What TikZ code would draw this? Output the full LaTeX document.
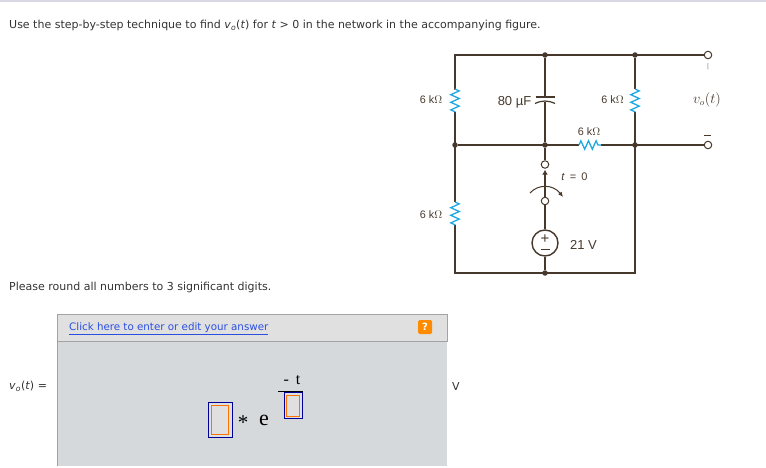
\documentclass[tikz,border=0pt]{standalone}
\usepackage{fontspec}
\setmainfont{DejaVu Sans}
\newfontfamily\circfont{Liberation Sans}
\newfontfamily\boxfont{Liberation Serif}
\usepackage{xcolor}
\usetikzlibrary{calc,arrows.meta,decorations.pathmorphing}
\definecolor{wirecol}{HTML}{46392C}
\definecolor{rescol}{HTML}{1FA8E0}
\definecolor{headcol}{HTML}{E0E0E0}
\definecolor{bodycol}{HTML}{D6D9DC}
\definecolor{edgecol}{HTML}{A3A3A3}
\definecolor{linkcol}{HTML}{2A4FE0}
\definecolor{pagetxt}{HTML}{333333}
\tikzset{
	wire/.style={line width=2pt,wirecol},
	res/.style={line width=1.3pt,rescol,decorate,decoration={zigzag,amplitude=4.2pt,segment length=7.6pt}},
	dot/.style={circle,fill=wirecol,inner sep=0pt,minimum size=5.5pt},
	term/.style={circle,draw=wirecol,line width=1pt,fill=white,inner sep=0pt,minimum size=7.5pt},
	circlabel/.style={text=wirecol,font=\circfont\fontsize{10.8}{12}\selectfont,inner sep=0pt},
	pagetext/.style={text=pagetxt,font=\fontsize{11}{13}\selectfont,inner sep=0pt,anchor=west},
	outerbox/.style={draw=blue!60!black,line width=1pt,fill=headcol},
	innerbox/.style={draw=orange!90!red,line width=1pt,fill=headcol},
}
\begin{document}
\begin{tikzpicture}[x=1pt,y=-1pt]
	\useasboundingbox (0,0) rectangle (766,468);
	\fill[blue!20!gray!25] (0,0) rectangle (766,2);
	% question text
	\node[pagetext] (question) at (9,25.5) {Use the step-by-step technique to find \textit{v}\textsubscript{\textit{o}}(\textit{t}) for \textit{t} > 0 in the network in the accompanying figure.};
	\node[pagetext] (round) at (9,287.5) {Please round all numbers to 3 significant digits.};
	% answer panel
	\fill[bodycol] (57,341) rectangle (447,466);
	\draw[edgecol,fill=headcol] (57,314) rectangle (447,341);
	\draw[edgecol] (57,341) -- (57,466);
	\node[pagetext,text=linkcol,font=\fontsize{10.3}{12}\selectfont] (link) at (69,328.5) {\underline{Click here to enter or edit your answer}};
	\node[rounded corners=1.5pt,fill=orange!90!yellow,text=white,minimum width=14pt,minimum height=14pt,inner sep=0pt,font=\bfseries\fontsize{10}{11}\selectfont] (help) at (425,327) {?};
	\node[pagetext] (vlabel) at (9,386.5) {\textit{v}\textsubscript{\textit{o}}(\textit{t}) =};
	\node[pagetext] (unit) at (452,386.5) {V};
	\draw[outerbox] (208,402) rectangle (232,437);
	\draw[innerbox] (211,405) rectangle (228,434);
	\draw[outerbox] (284,392) rectangle (302,418);
	\draw[innerbox] (286,395) rectangle (299,416);
	\draw[black,line width=1pt] (278,391) -- (303,391);
	\node[font=\boxfont\fontsize{16}{16}\selectfont,inner sep=0pt] (exptop) at (292,380) {-\hspace{7pt}t};
	\node[font=\boxfont\fontsize{21}{21}\selectfont,inner sep=0pt] (star) at (243,423) {*};
	\node[font=\boxfont\fontsize{22}{22}\selectfont,inner sep=0pt] (euler) at (264,420) {e};
	% circuit
	\coordinate (tl) at (455,55);
	\coordinate (bl) at (455,273);
	\coordinate (rt1) at (455,89);
	\coordinate (rb1) at (455,112);
	\coordinate (rt2) at (455,202);
	\coordinate (rb2) at (455,225);
	\coordinate (rt3) at (635,89);
	\coordinate (rb3) at (635,112);
	\coordinate (rl4) at (579,145);
	\coordinate (rr4) at (601,145);
	\coordinate (br) at (635,273);
	\coordinate (capt) at (545,97);
	\coordinate (capb) at (545,102);
	\node[dot] (ntop) at (545,55) {};
	\node[dot] (ntopr) at (635,55) {};
	\node[dot] (nmidl) at (455,145) {};
	\node[dot] (nmid) at (545,145) {};
	\node[dot] (nmidr) at (635,145) {};
	\node[dot] (nbot) at (545,273) {};
	\node[term] (ta) at (708,55) {};
	\node[term] (tb) at (708,145) {};
	\node[term] (swt) at (545,164.5) {};
	\node[term] (swb) at (545,201) {};
	\node[circle,draw=wirecol,line width=1.4pt,fill=white,minimum size=26pt,inner sep=0pt] (src) at (545,243) {};
	\draw[wire,line cap=round] (ta) -- (tl) -- (rt1);
	\draw[wire] (rb1) -- (rt2);
	\draw[wire] (rb2) -- (bl) -- (br) -- (rr4 -| br) -- (rb3);
	\draw[wire] (rt3) -- (ntopr);
	\draw[wire] (nmidl) -- (rl4);
	\draw[wire] (rr4) -- (tb);
	\draw[wire] (ntop) -- (capt);
	\draw[wire] (capb) -- (nmid);
	\draw[wire] (nmid) -- (swt);
	\draw[wire,-{Latex[length=5pt,width=6pt]}] (swb) -- ($(swt.south)+(0,1)$);
	\draw[wire] (swb) -- (src);
	\draw[wire] (src) -- (nbot);
	\draw[res] (rt1) -- (rb1);
	\draw[res] (rt2) -- (rb2);
	\draw[res] (rt3) -- (rb3);
	\draw[res] (rl4) -- (rr4);
	% capacitor plates
	\draw[wirecol,line width=1.2pt] ($(capt)+(-9.5,0)$) -- ($(capt)+(9.5,0)$);
	\draw[wirecol,line width=1.2pt] ($(capb)+(-10,1.5)$) to[bend left=25] ($(capb)+(10,1.5)$);
	% switch arc
	\draw[wirecol,line width=1pt,-{Latex[length=5pt,width=4.5pt]}] (530,193) .. controls (538,184) and (553,184) .. (563,197);
	% source signs
	\node[font=\circfont\fontsize{15}{15}\selectfont,text=wirecol,inner sep=0pt] (plus) at (545,239) {+};
	\draw[wirecol,line width=0.8pt] (540.5,249.5) -- (549.5,249.5);
	% labels
	\node[circlabel] (l1) at (431,100) {6 k$\Omega$};
	\node[circlabel] (l2) at (431,215) {6 k$\Omega$};
	\node[circlabel] (l3) at (612.5,100) {6 k$\Omega$};
	\node[circlabel] (l4) at (589,131.5) {6 k$\Omega$};
	\node[circlabel,font=\circfont\fontsize{13}{14}\selectfont] (l5) at (514.5,102) {80 µF};
	\node[circlabel,font=\circfont\fontsize{13}{14}\selectfont] (l6) at (583.5,245) {21 V};
	\node[circlabel,font=\circfont\fontsize{11}{12}\selectfont] (l7) at (574.5,177) {\textit{t}\hspace{2pt} = \hspace{2pt}0};
	\node[circlabel,font=\fontsize{13.5}{15}\selectfont] (vout) at (707,100) {$v_o(t)$};
	\node[circlabel,text=gray] (vplus) at (708,67) {\fontsize{7}{8}\selectfont|};
	\draw[wirecol,line width=0.8pt] (704,135) -- (711,135);
\end{tikzpicture}
\end{document}
